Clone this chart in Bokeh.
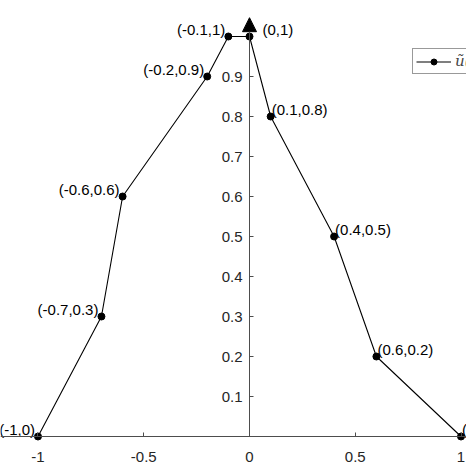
from bokeh.plotting import figure
from bokeh.models import (Range1d, LinearAxis, FixedTicker, Arrow, NormalHead,
                          ColumnDataSource, Legend, LegendItem)
from bokeh.core.properties import value
from bokeh.embed import file_html
from bokeh.resources import INLINE

# data
x_vals = [-1, -0.7, -0.6, -0.2, -0.1, 0, 0.1, 0.4, 0.6, 1]
y_vals = [0, 0.3, 0.6, 0.9, 1, 1, 0.8, 0.5, 0.2, 0]
x_ticks = [-1, -0.5, 0, 0.5, 1]
x_tick_labels = ["-1", "-0.5", "0", "0.5", "1"]
y_ticks = [0.1, 0.2, 0.3, 0.4, 0.5, 0.6, 0.7, 0.8, 0.9]
y_tick_labels = ["0.1", "0.2", "0.3", "0.4", "0.5", "0.6", "0.7", "0.8", "0.9"]
series_name = "ũ(x)"

FONT = "Liberation Sans"
AXC = "#4d4d4d"
TXC = "#262626"

p = figure(width=466, height=466, output_backend="svg", toolbar_location=None,
           x_axis_location=None, y_axis_location=None, min_border=0,
           x_range=Range1d(-1.1773, 1.026), y_range=Range1d(-0.075, 1.09))
p.outline_line_color = None
for g in p.grid:
    g.visible = False

# x axis at y=0
xa = LinearAxis(fixed_location=0, ticker=FixedTicker(ticks=x_ticks))
xa.major_label_overrides = {t: l for t, l in zip(x_ticks, x_tick_labels)}
xa.major_tick_in = 4
xa.major_tick_out = 0
xa.minor_tick_in = 0
xa.minor_tick_out = 0
xa.axis_line_color = AXC
xa.major_tick_line_color = AXC
xa.major_label_text_font = FONT
xa.major_label_text_font_size = "15px"
xa.major_label_text_color = TXC
xa.major_label_standoff = 15
p.add_layout(xa, "below")

# y axis at x=0
ya = LinearAxis(fixed_location=0, ticker=FixedTicker(ticks=y_ticks), bounds=(0, 1.0))
ya.major_label_overrides = {t: l for t, l in zip(y_ticks, y_tick_labels)}
ya.major_tick_in = 4
ya.major_tick_out = 0
ya.minor_tick_in = 0
ya.minor_tick_out = 0
ya.axis_line_color = AXC
ya.major_tick_line_color = AXC
ya.major_label_text_font = FONT
ya.major_label_text_font_size = "15px"
ya.major_label_text_color = TXC
ya.major_label_standoff = 7
p.add_layout(ya, "left")

# arrow head on y axis
p.add_layout(Arrow(end=NormalHead(size=14, fill_color="black", line_color="black"),
                   x_start=0, y_start=0.95, x_end=0, y_end=1.047,
                   line_color=AXC, line_width=1))

# data
src = ColumnDataSource(dict(x=x_vals, y=y_vals))
lr = p.line("x", "y", source=src, line_color="black", line_width=1.1)
sr = p.scatter("x", "y", source=src, size=7, marker="circle",
               fill_color="black", line_color="black")

# point labels
labels = ["(%g,%g)" % (x, y) for x, y in zip(x_vals, y_vals)]
align = ["right" if x < 0 else "left" for x in x_vals]
xoff = [-3 if x < 0 else (13 if x == 0 else 1) for x in x_vals]
lsrc = ColumnDataSource(dict(x=x_vals, y=y_vals, t=labels, a=align, o=xoff))
p.text("x", "y", text="t", source=lsrc, text_align="a", x_offset="o",
       y_offset=-7, text_baseline="middle", text_font=value(FONT),
       text_font_size="15px", text_color="black")

legend = Legend(items=[LegendItem(label=series_name, renderers=[lr, sr])],
                location=(412, 392), padding=3, margin=0, spacing=0,
                glyph_width=35, glyph_height=15, label_height=15,
                label_standoff=4, label_text_font="DejaVu Serif",
                label_text_font_style="italic", label_text_font_size="15px",
                border_line_color="#333333", border_line_width=1.5,
                background_fill_color="white", background_fill_alpha=1)
p.add_layout(legend, "center")

open("out.html", "w").write(file_html(p, INLINE))
